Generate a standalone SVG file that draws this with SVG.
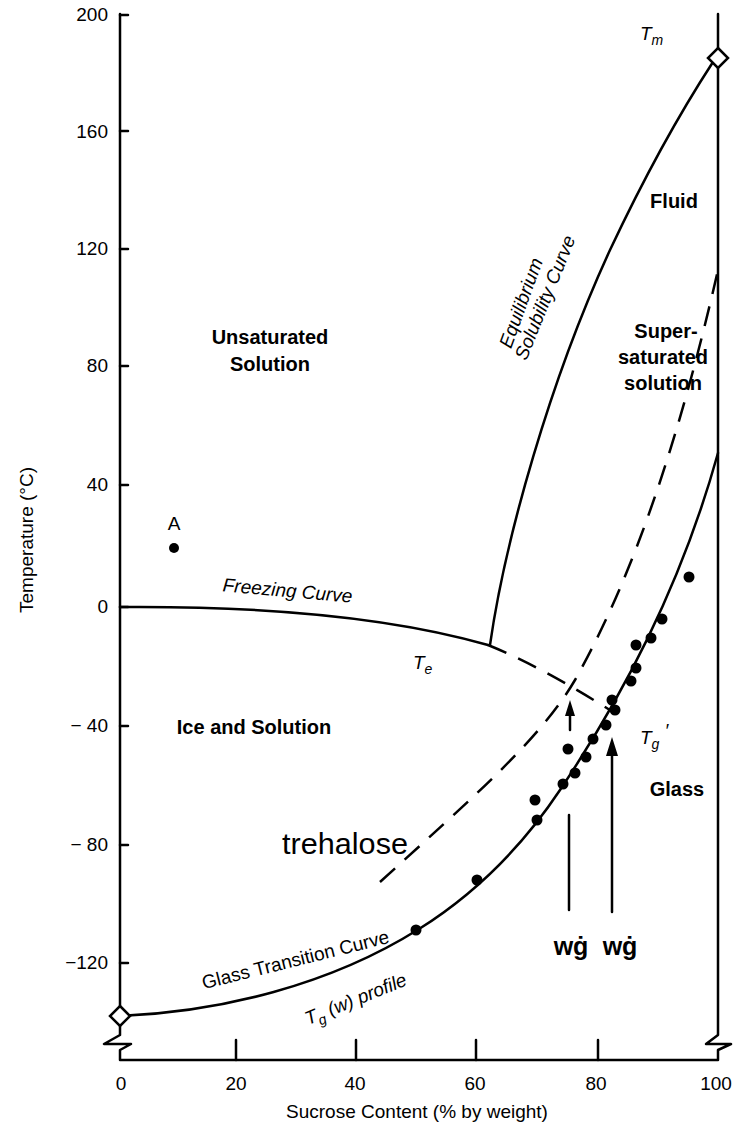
<svg xmlns="http://www.w3.org/2000/svg" width="735" height="1125" viewBox="0 0 735 1125">
<style>
text{font-family:"Liberation Sans",Arial,sans-serif;fill:#000}
.ax{font-size:19px}
.b{font-size:20px;font-weight:bold}
.i{font-size:19px;font-style:italic}
.ln{fill:none;stroke:#000;stroke-width:2.5;stroke-linejoin:round;stroke-linecap:round}
.ds{fill:none;stroke:#000;stroke-width:2.5;stroke-dasharray:20,13}
.dot{fill:#000}
</style>
<rect width="735" height="1125" fill="#fff"/>
<g id="axes" class="ln">
<path d="M120,14 V1035 L104,1044 H131 L120,1050 V1060 H718 V1050 L731,1044 H706 L718,1035 V14"/>
<path d="M120,15 h8 M120,131 h8 M120,249 h8 M120,366 h8 M120,485 h8 M120,607 h8 M120,726 h8 M120,845 h8 M120,963 h8"/>
<path d="M236,1060 v-20 M356,1060 v-20 M476,1060 v-20 M598,1060 v-20"/>
</g>
<g id="ylabels" class="ax" text-anchor="end">
<text x="108" y="21">200</text><text x="108" y="138">160</text><text x="108" y="255">120</text><text x="108" y="372">80</text><text x="108" y="491">40</text><text x="108" y="613">0</text><text x="108" y="732">− 40</text><text x="108" y="851">− 80</text><text x="108" y="969">−120</text>
</g>
<g id="xlabels" class="ax" text-anchor="middle">
<text x="121" y="1090">0</text><text x="236" y="1090">20</text><text x="355" y="1090">40</text><text x="475" y="1090">60</text><text x="596" y="1090">80</text><text x="716" y="1090">100</text>
<text x="417" y="1118">Sucrose Content (% by weight)</text>
<text transform="translate(33,540) rotate(-90)">Temperature (°C)</text>
</g>
<g id="connectors">
<path class="ln" d="M120,1016 C220,1012 330,985 419,929 C470,897 520,850 560,790 C620,700 680,590 718,453"/>
<path class="ln" d="M120,607 C250,606 380,614 488,645"/>
<path class="ds" d="M488,645 C530,662 575,688 613,712"/>
<path class="ln" d="M490,645 C505,540 550,380 610,250 C650,165 685,105 713,62"/>
<path class="ds" d="M380,882 C470,800 540,740 575,680 C620,600 670,480 718,270"/>
<path class="ln" d="M569,815 V910 M612,745 V912 M570,730 V712"/>
<path d="M570,700 L565,716 H575 Z M612,737 L606,756 H618 Z" fill="#000"/>
</g>
<g id="markers" fill="#fff" stroke="#000" stroke-width="2.5">
<path d="M120,1006 L130,1016 L120,1026 L110,1016 Z"/>
<path d="M718,48 L728,58 L718,68 L708,58 Z"/>
</g>
<g id="points" class="dot">
<circle cx="174" cy="548" r="5"/>
<circle cx="416" cy="930" r="5.5"/><circle cx="477" cy="880" r="5.5"/><circle cx="535" cy="800" r="5.5"/><circle cx="537" cy="820" r="5.5"/><circle cx="563" cy="784" r="5.5"/><circle cx="568" cy="749" r="5.5"/><circle cx="575" cy="773" r="5.5"/><circle cx="586" cy="757" r="5.5"/><circle cx="593" cy="739" r="5.5"/><circle cx="606" cy="725" r="5.5"/><circle cx="612" cy="700" r="5.5"/><circle cx="615" cy="710" r="5.5"/><circle cx="631" cy="681" r="5.5"/><circle cx="636" cy="668" r="5.5"/><circle cx="636" cy="645" r="5.5"/><circle cx="651" cy="638" r="5.5"/><circle cx="662" cy="619" r="5.5"/><circle cx="689" cy="577" r="5.5"/>
</g>
<g id="labels">
<text class="b" x="270" y="344" text-anchor="middle">Unsaturated</text>
<text class="b" x="270" y="371" text-anchor="middle">Solution</text>
<text class="ax" x="174" y="530" text-anchor="middle">A</text>
<text class="i" transform="translate(287,597) rotate(5)" text-anchor="middle">Freezing Curve</text>
<text class="i" x="413" y="669">T<tspan font-size="14" dy="5">e</tspan></text>
<text class="b" x="254" y="734" text-anchor="middle">Ice and Solution</text>
<text x="345" y="854" text-anchor="middle" font-size="29" textLength="126" lengthAdjust="spacingAndGlyphs">trehalose</text>
<text class="ax" transform="translate(297,966) rotate(-14)" text-anchor="middle">Glass Transition Curve</text>
<text class="i" transform="translate(358,1005) rotate(-22)" text-anchor="middle">T<tspan font-size="14" dy="5">g</tspan><tspan dy="-5"> (w) profile</tspan></text>
<text class="b" x="677" y="796" text-anchor="middle">Glass</text>
<text class="i" x="640" y="744">T<tspan font-size="14" dy="5">g</tspan><tspan dy="-12"> ′</tspan></text>
<text class="b" x="674" y="208" text-anchor="middle">Fluid</text>
<text class="b" x="666" y="338" text-anchor="middle">Super-</text>
<text class="b" x="663" y="364" text-anchor="middle">saturated</text>
<text class="b" x="663" y="390" text-anchor="middle">solution</text>
<text class="i" transform="translate(527,305) rotate(-70)" text-anchor="middle">Equilibrium</text>
<text class="i" transform="translate(551,300) rotate(-68)" text-anchor="middle">Solubility Curve</text>
<text class="i" x="640" y="40">T<tspan font-size="14" dy="5">m</tspan></text>
<text x="571" y="955" font-size="25" font-weight="bold" text-anchor="middle">wġ</text>
<text x="620" y="955" font-size="25" font-weight="bold" text-anchor="middle">wġ</text>
</g>
</svg>
